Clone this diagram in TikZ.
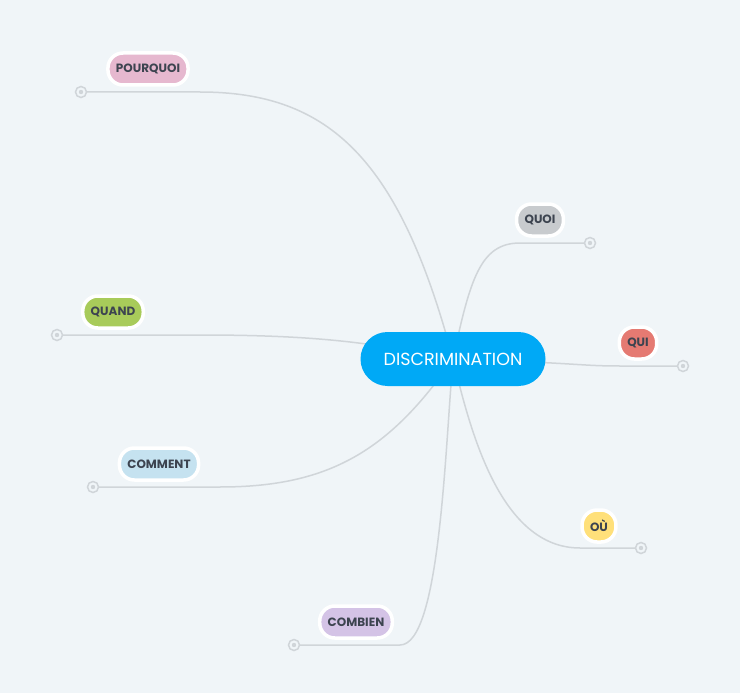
\documentclass[tikz,border=0pt]{standalone}
\usepackage{fontspec}
\setmainfont{Poppins}
\definecolor{bg}{HTML}{F0F5F8}
\definecolor{ln}{HTML}{D0D5D9}
\definecolor{tx}{HTML}{3D4450}
\definecolor{cmain}{HTML}{00A9F6}
\definecolor{cpink}{HTML}{E6B8CF}
\definecolor{cgreen}{HTML}{A8CB5A}
\definecolor{cblue}{HTML}{C5E2F0}
\definecolor{cviolet}{HTML}{D4C3E6}
\definecolor{cyellow}{HTML}{FFE07A}
\definecolor{cred}{HTML}{E57A72}
\definecolor{cgrey}{HTML}{C8CBCE}
\tikzset{
 lab/.style={rounded corners=15pt, draw=white, line width=3.5pt, text=tx, font=\fontsize{12}{14}\selectfont\bfseries, minimum height=32pt, inner xsep=8pt},
 br/.style={draw=ln, line width=1.5pt},
 dot/.style={circle, draw=ln, line width=1.5pt, fill=bg, minimum size=11pt, inner sep=0pt, path picture={\fill[ln] (path picture bounding box.center) circle (2.2pt);}}
}
\begin{document}
\begin{tikzpicture}[x=1pt,y=-1pt]
\fill[bg] (0,0) rectangle (740,693);
\useasboundingbox (0,0) rectangle (740,693);
\coordinate (c) at (453,359);
\coordinate (e1) at (81,92);
\coordinate (e2) at (57,335);
\coordinate (e3) at (93,487);
\coordinate (e4) at (294,645);
\coordinate (e5) at (641,548);
\coordinate (e6) at (683,366);
\coordinate (e7) at (590,243);
\draw[br] (c) .. controls (400,160) and (330,92) .. (200,92) -- (e1);
\draw[br] (c) .. controls (380,345) and (330,335) .. (200,335) -- (e2);
\draw[br] (c) .. controls (390,450) and (330,487) .. (220,487) -- (e3);
\draw[br] (c) .. controls (445,450) and (440,645) .. (400,645) -- (e4);
\draw[br] (c) .. controls (470,430) and (500,548) .. (580,548) -- (e5);
\draw[br] (c) .. controls (580,363) and (580,366) .. (620,366) -- (e6);
\draw[br] (c) .. controls (470,280) and (480,243) .. (520,243) -- (e7);
\foreach \e in {e1,e2,e3,e4,e5,e6,e7} \node[dot] (d\e) at (\e) {};
\node[fill=cmain, rounded corners=27pt, minimum width=185pt, minimum height=54pt, text=white, font=\fontsize{17.5}{20}\selectfont] (m) at (c) {DISCRIMINATION};
\node[lab, fill=cpink] (l1) at (148,69) {POURQUOI};
\node[lab, fill=cgreen] (l2) at (113,312) {QUAND};
\node[lab, fill=cblue] (l3) at (159,464) {COMMENT};
\node[lab, fill=cviolet] (l4) at (356,622) {COMBIEN};
\node[lab, fill=cyellow] (l5) at (599,526) {OÙ};
\node[lab, fill=cred] (l6) at (638,343) {QUI};
\node[lab, fill=cgrey] (l7) at (540,220) {QUOI};
\end{tikzpicture}
\end{document}
